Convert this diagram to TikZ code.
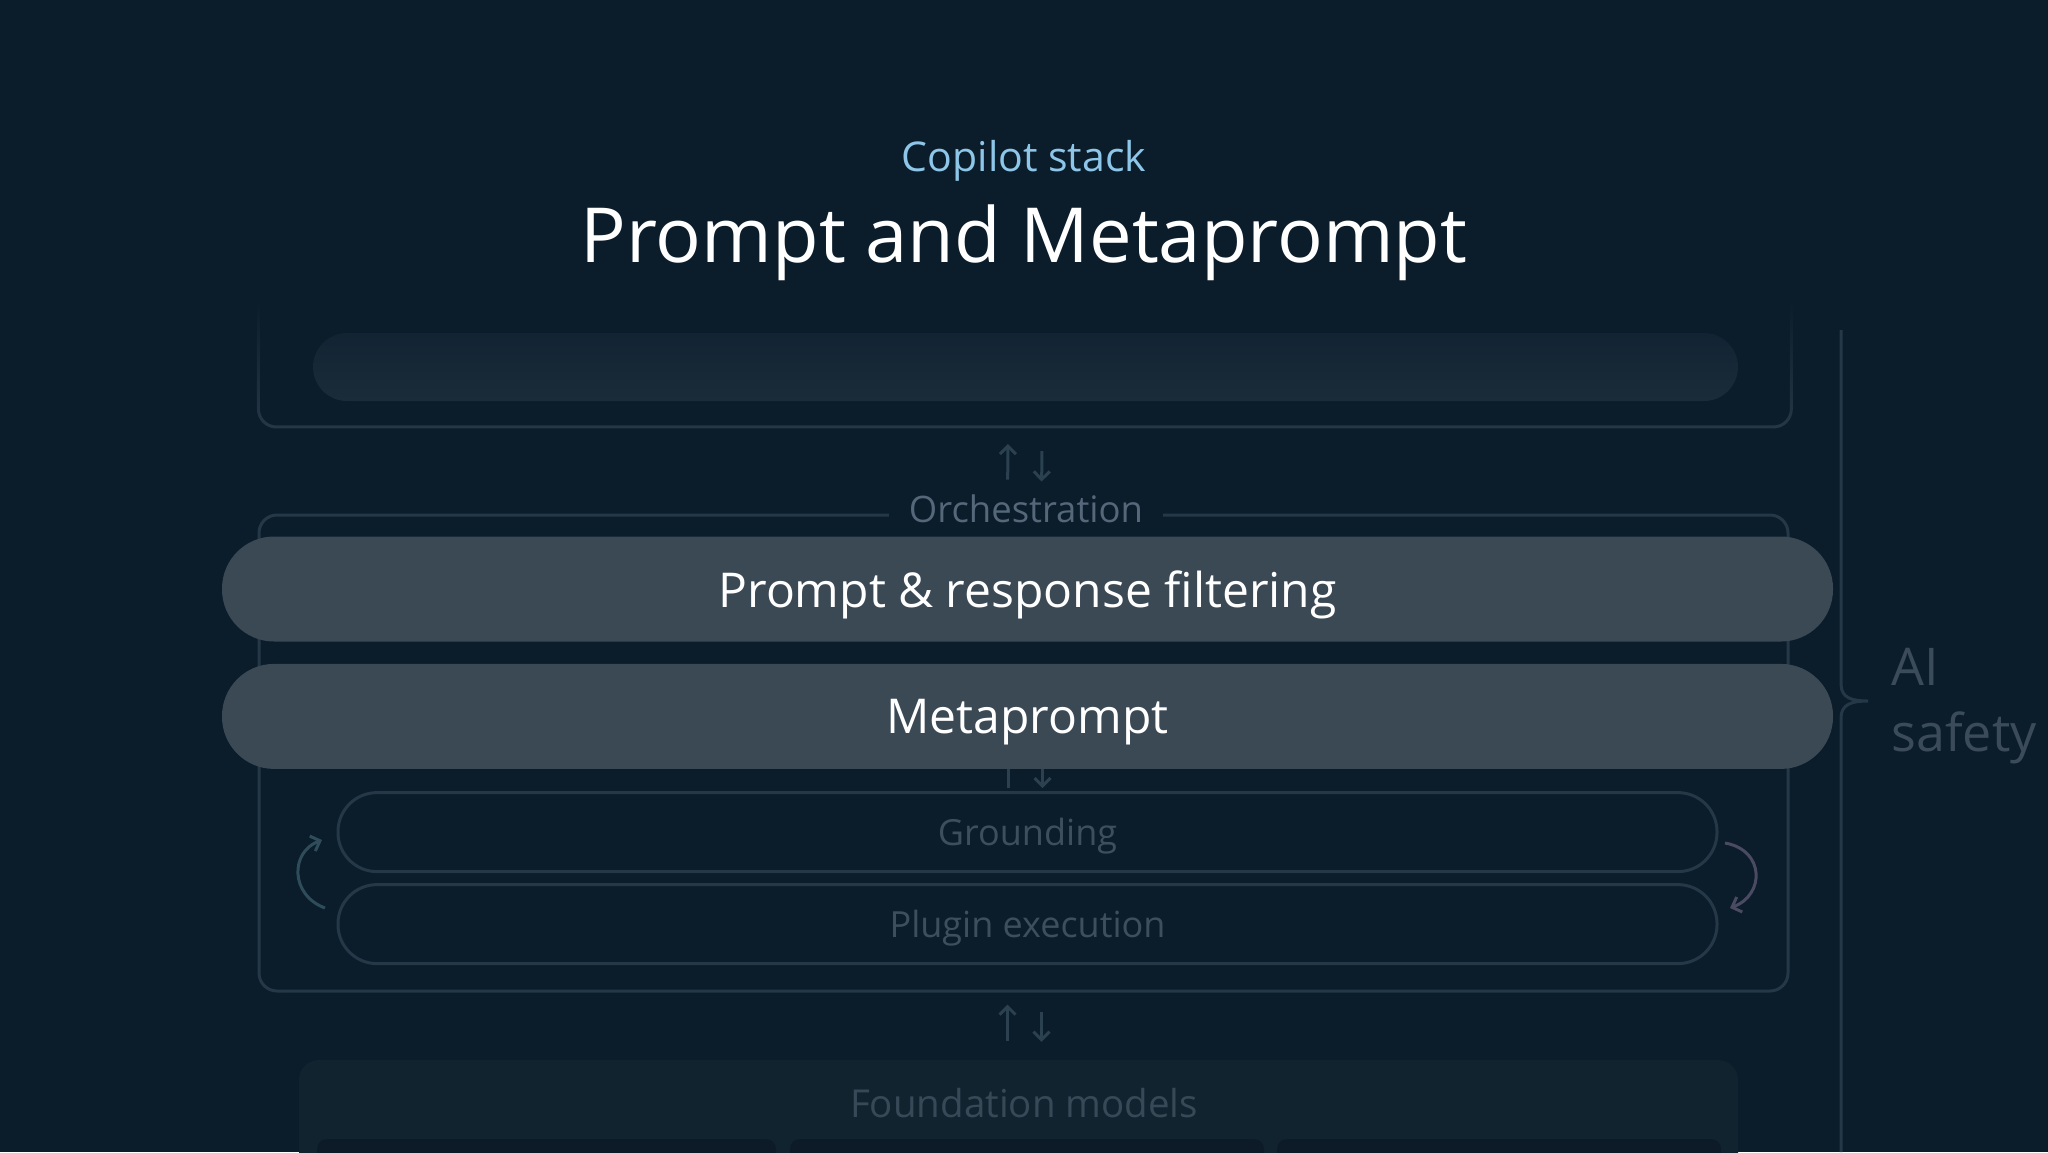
\documentclass[tikz,border=0pt]{standalone}
\usepackage{fontspec}
\setmainfont{Open Sans}
\usepackage{xcolor}
\usepackage{tikz}
\usetikzlibrary{positioning,arrows.meta,fadings}

\definecolor{bgcol}{HTML}{0B1C2A}
\definecolor{framecol}{HTML}{253847}
\definecolor{toppilltop}{HTML}{122433}
\definecolor{toppillcol}{HTML}{1A2B39}
\definecolor{pillcol}{HTML}{3B4955}
\definecolor{subcol}{HTML}{8DC6E8}
\definecolor{orchtxtcol}{HTML}{55687A}
\definecolor{slottxtcol}{HTML}{3D4F5D}
\definecolor{arrowcol}{HTML}{2B4150}
\definecolor{loopleftcol}{HTML}{2F4C5A}
\definecolor{looprightcol}{HTML}{4A4B62}
\definecolor{fmcol}{HTML}{122330}
\definecolor{fmsubcol}{HTML}{0C1B27}
\definecolor{fmtxtcol}{HTML}{374957}
\definecolor{aitxtcol}{HTML}{3B4B59}

\begin{document}
\begin{tikzpicture}[
    x=1pt, y=-1pt,
    frame/.style={draw=framecol, line width=3pt},
    pill/.style={
        rectangle, rounded corners=52pt,
        fill=pillcol, text=white, inner sep=0pt,
        minimum width=1611pt, minimum height=105pt, text depth=0pt,
        font=\fontsize{48}{56}\selectfont
    },
    slot/.style={
        rectangle, rounded corners=39pt,
        draw=framecol, line width=3pt, fill=bgcol,
        text=slottxtcol, inner sep=0pt,
        minimum width=1379pt, minimum height=79pt, text depth=0pt,
        font=\fontsize{36}{42}\selectfont
    },
    subbox/.style={rectangle, rounded corners=10pt, fill=fmsubcol, minimum height=72pt},
    flow/.style={draw=arrowcol, line width=3pt, -{Straight Barb[length=8pt,width=16pt]}},
    loopleft/.style={draw=loopleftcol, line width=3pt, -{Straight Barb[length=8pt,width=16pt]}},
    loopright/.style={draw=looprightcol, line width=3pt, -{Straight Barb[length=8pt,width=16pt]}}
]

\path[use as bounding box, fill=bgcol] (0,0) rectangle (2048,1152);

% heading
\node[text=subcol, font=\fontsize{41}{48}\selectfont] (subtitle) at (1024,161) {Copilot stack};
\node[text=white, font=\fontsize{76}{88}\selectfont] (title) at (1024,243) {Prompt and Metaprompt};

% top layer, fading out under the heading
\draw[frame, path fading=north, rounded corners=18pt] (259,300) -- (259,427) -- (1793,427) -- (1793,300);
\shade[top color=toppilltop, bottom color=toppillcol, rounded corners=34pt] (313,333) rectangle (1738,401);
\coordinate (topbot) at (1025,427);

% orchestration
\node[frame, rounded corners=18pt, minimum width=1529pt, minimum height=476pt] (orch) at (1023.5,753) {};
\node[fill=bgcol, text=orchtxtcol, inner xsep=20pt, font=\fontsize{36.5}{42}\selectfont] (orchtxt) at (1026,509) {Orchestration};

\draw[flow, shorten <=34pt, shorten >=17pt] ([xshift=-16pt]orch.north) -- ([xshift=-17pt]topbot);
\draw[flow, shorten <=24pt, shorten >=32pt] ([xshift=17pt]topbot) -- ([xshift=18pt]orch.north);

\node[pill] (filter) at (1027.5,589) {Prompt \& response filtering};
\node[pill, below=22pt of filter] (meta) {Metaprompt};

\node[slot, below=22pt of meta] (ground) {Grounding};
\node[slot, below=10pt of ground] (plugin) {Plugin execution};

\draw[draw=arrowcol, line width=3pt] ([xshift=-19pt,yshift=3pt]ground.north) -- ([xshift=-19pt]meta.south);
\draw[flow] ([xshift=15pt]meta.south) -- ([xshift=15pt,yshift=3pt]ground.north);

% loop between grounding and plugins
\draw[loopleft] (325,908) .. controls (290,895) and (290,852) .. (322,840);
\draw[loopright] (1725,843) .. controls (1765,850) and (1765,895) .. (1730,908);

% foundation models
\node[rectangle, rounded corners=20pt, fill=fmcol, minimum width=1439pt, minimum height=142pt] (found) at (1018.5,1131) {};
\node[text=fmtxtcol, font=\fontsize{38.5}{44}\selectfont] (foundtxt) at (1024,1103) {Foundation models};
\node[subbox, minimum width=459pt] (fm1) at (546.5,1175) {};
\node[subbox, minimum width=474pt] (fm2) at (1027,1175) {};
\node[subbox, minimum width=444pt] (fm3) at (1499,1175) {};

\draw[flow, shorten <=19pt, shorten >=12pt] ([xshift=-11pt]found.north) -- ([xshift=-16pt]orch.south);
\draw[flow, shorten <=19pt, shorten >=18pt] ([xshift=18pt]orch.south) -- ([xshift=23pt]found.north);

% AI safety brace
\draw[draw=framecol, line width=3pt] (1841,330) -- (1841,684)
    .. controls (1841,698) and (1852,701) .. (1868,701)
    .. controls (1852,701) and (1841,704) .. (1841,718) -- (1841,1152);
\node[anchor=west, align=left, text=aitxtcol, font=\fontsize{52}{66}\selectfont] (aisafety) at (1888,706) {AI\\safety};

\end{tikzpicture}
\end{document}
